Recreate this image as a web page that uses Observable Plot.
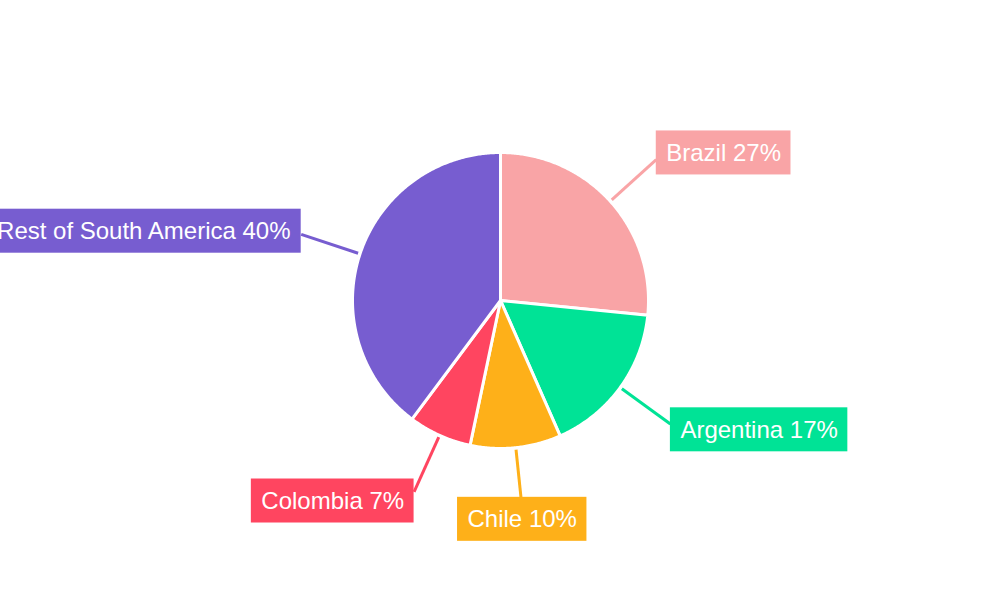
<!DOCTYPE html>
<html><head><meta charset="utf-8">
<script src="https://cdn.jsdelivr.net/npm/d3@7"></script>
<script src="https://cdn.jsdelivr.net/npm/@observablehq/plot@0.6"></script>
<style>html,body{margin:0;padding:0;background:#fff;overflow:hidden;}</style>
</head><body><div id="chart"></div>
<script>
// ---- data ----
const countries = ["Brazil", "Argentina", "Chile", "Colombia", "Rest of South America"];
const shares = [26.6, 16.8, 9.9, 6.9, 39.8];
const colors = ["#F9A4A6", "#00E396", "#FEB019", "#FF4560", "#775DD0"];

// ---- layout constants (pixels) ----
const W = 1000, H = 600;
const R = 148;            // pie radius in px (1 data unit)
const LEAD_START = 150, LEAD_END = 210, BOX_H = 44, PAD = 10, SHIFT = 10;
const FONT = "24px 'Liberation Sans', Arial, sans-serif";

const data = countries.map((name, i) => ({name, share: shares[i]}));
const arcs = d3.pie().sort(null).value(d => d.share)(data);

// slice outlines in unit coordinates (radius 1, y up)
const slicePts = [];
for (const a of arcs) {
  const n = Math.max(2, Math.ceil((a.endAngle - a.startAngle) / (Math.PI / 360)));
  slicePts.push({name: a.data.name, x: 0, y: 0});
  for (let k = 0; k <= n; k++) {
    const t = a.startAngle + (a.endAngle - a.startAngle) * k / n;
    slicePts.push({name: a.data.name, x: Math.sin(t), y: Math.cos(t)});
  }
  slicePts.push({name: a.data.name, x: 0, y: 0});
}

// label text widths
const ctx = document.createElement("canvas").getContext("2d");
ctx.font = FONT;

const labels = arcs.map(a => {
  const m = (a.startAngle + a.endAngle) / 2;
  const sx = Math.sin(m), sy = Math.cos(m);
  const text = `${a.data.name} ${Math.round(a.data.share)}%`;
  const w = (ctx.measureText(text).width + 2 * PAD) / R;
  const h = BOX_H / R;
  const ex = sx * LEAD_END / R, ey = sy * LEAD_END / R;
  const cy = ey + sy * SHIFT / R;
  let bx1, bx2;
  if (sx > 0.3) { bx1 = ex; bx2 = ex + w; }
  else if (sx < -0.3) { bx1 = ex - w; bx2 = ex; }
  else { bx1 = ex - w / 2; bx2 = ex + w / 2; }
  return {
    name: a.data.name, text,
    x1: sx * LEAD_START / R, y1: sy * LEAD_START / R, x2: ex, y2: ey,
    bx1, bx2, by1: cy - h / 2, by2: cy + h / 2,
    tx: (bx1 + bx2) / 2, ty: cy
  };
});

const chart = Plot.plot({
  width: W, height: H, margin: 0,
  x: {domain: [-W / 2 / R, W / 2 / R], axis: null},
  y: {domain: [-H / 2 / R, H / 2 / R], axis: null},
  color: {domain: countries, range: colors},
  style: {background: "white"},
  marks: [
    Plot.link(labels, {x1: "x1", y1: "y1", x2: "x2", y2: "y2", stroke: "name", strokeWidth: 3}),
    Plot.line(slicePts, {x: "x", y: "y", z: "name", fill: "name", stroke: "white", strokeWidth: 3, strokeLinejoin: "round"}),
    Plot.rect(labels, {x1: "bx1", x2: "bx2", y1: "by1", y2: "by2", fill: "name"}),
    Plot.text(labels, {x: "tx", y: "ty", text: "text", fill: "white", fontSize: 24, fontFamily: "'Liberation Sans', Arial, sans-serif"})
  ]
});
document.getElementById("chart").append(chart);
</script>
</body></html>
